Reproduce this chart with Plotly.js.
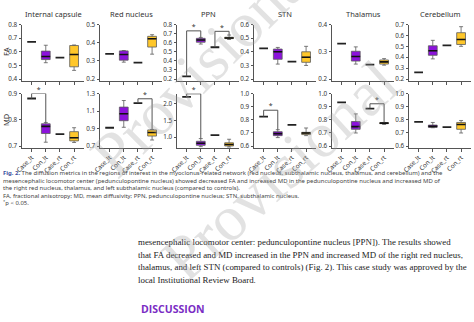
<!DOCTYPE html>
<html><head><meta charset="utf-8">
<script src="https://cdn.plot.ly/plotly-3.0.1.min.js"></script>
<style>html,body{margin:0;padding:0;background:#fff}#chart{width:474px;height:322px}</style>
</head><body><div id="chart"></div>
<script>
// ---------- data ----------
const categories = ['Case_lt', 'Con_lt', 'Case_rt', 'Con_rt'];
const regions = ['Internal capsule', 'Red nucleus', 'PPN', 'STN', 'Thalamus', 'Cerebellum'];
const metrics = ['FA', 'MD'];

// FA: single case values
const faCaseLt = [0.673, 0.339, 0.230, 0.425, 0.330, 0.262];
const faCaseRt = [0.558, 0.290, 0.550, 0.328, 0.253, 0.508];
// FA controls: [lower whisker, q1, median, q3, upper whisker]
const faConLt = [
  [0.520, 0.543, 0.565, 0.605, 0.648],
  [0.293, 0.304, 0.335, 0.355, 0.357],
  [0.585, 0.605, 0.630, 0.648, 0.658],
  [0.310, 0.345, 0.400, 0.420, 0.432],
  [0.255, 0.266, 0.283, 0.302, 0.318],
  [0.385, 0.418, 0.460, 0.505, 0.555]
];
const faConRt = [
  [0.464, 0.490, 0.580, 0.646, 0.650],
  [0.337, 0.376, 0.422, 0.435, 0.444],
  [0.635, 0.645, 0.652, 0.660, 0.684],
  [0.300, 0.323, 0.360, 0.400, 0.440],
  [0.251, 0.255, 0.263, 0.270, 0.275],
  [0.500, 0.517, 0.563, 0.625, 0.680]
];
// MD
const mdCaseLt = [0.881, 0.910, 2.200, 0.825, 0.932, 0.785];
const mdCaseRt = [0.746, 1.190, 1.060, 0.762, 0.885, 0.745];
const mdConLt = [
  [0.715, 0.748, 0.775, 0.785, 0.790],
  [0.915, 0.990, 1.070, 1.145, 1.220],
  [0.720, 0.760, 0.820, 0.880, 0.960],
  [0.665, 0.680, 0.695, 0.710, 0.725],
  [0.700, 0.728, 0.748, 0.787, 0.845],
  [0.740, 0.743, 0.750, 0.760, 0.780]
];
const mdConRt = [
  [0.714, 0.720, 0.732, 0.755, 0.770],
  [0.770, 0.815, 0.855, 0.885, 0.890],
  [0.710, 0.740, 0.785, 0.835, 0.940],
  [0.680, 0.688, 0.700, 0.705, 0.738],
  [0.765, 0.771, 0.775, 0.778, 0.780],
  [0.700, 0.728, 0.765, 0.780, 0.795]
];
// y tick values per panel
const faTicks = [
  [0.4, 0.5, 0.6, 0.7, 0.8], [0.2, 0.3, 0.4, 0.5], [0.2, 0.3, 0.4, 0.5, 0.6, 0.7, 0.8],
  [0.2, 0.3, 0.4, 0.5, 0.6], [0.2, 0.3, 0.4], [0.2, 0.3, 0.4, 0.5, 0.6, 0.7]
];
const mdTicks = [
  [0.7, 0.8, 0.9], [0.7, 0.9, 1.1, 1.3], [1.0, 1.5, 2.0],
  [0.6, 0.7, 0.8, 0.9, 1.0], [0.6, 0.7, 0.8, 0.9, 1.0], [0.6, 0.7, 0.8, 0.9, 1.0]
];
// significance brackets (* p < 0.05)
const sigMetric = ['FA', 'FA', 'MD', 'MD', 'MD', 'MD', 'MD'];
const sigRegion = [2, 2, 0, 1, 2, 3, 4];
const sigSide = ['lt', 'rt', 'lt', 'rt', 'lt', 'lt', 'rt'];
const sigHeight = [0.73, 0.725, 0.90, 1.24, 2.29, 0.873, 0.922];

const captionLines = [
  '<b><span style="color:#3a4f9e">Fig. 2.</span></b> The diffusion metrics in the regions of interest in the myoclonus-related network (red nucleus, subthalamic nucleus, thalamus, and cerebellum) and the',
  'mesencephalic locomotor center (pedunculopontine nucleus) showed decreased FA and increased MD in the pedunculopontine nucleus and increased MD of',
  'the right red nucleus, thalamus, and left subthalamic nucleus (compared to controls).',
  'FA, fractional anisotropy; MD, mean diffusivity; PPN, pedunculopontine nucleus; STN, subthalamic nucleus.',
  '<sup>*</sup>p < 0.05.'
];
const bodyLines = [
  'mesencephalic locomotor center: pedunculopontine nucleus [PPN]). The results showed',
  'that FA decreased and MD increased in the PPN and increased MD of the right red nucleus,',
  'thalamus, and left STN (compared to controls) (Fig. 2). This case study was approved by the',
  'local Institutional Review Board.'
];
const heading = 'DISCUSSION';
const watermark = 'Provisional';

// ---------- styling / layout helpers ----------
const W = 474, H = 322;
const PURPLE = '#8c12dc', GOLD = '#ffc72a';
const colStart = [22, 100, 177, 254, 332, 409];
const panelW = 62;
const rowPx = {FA: [24.5, 81], MD: [93.5, 148]};
const X = p => p / W, Y = p => 1 - p / H;
const FONT = 'Noto Sans, Open Sans, sans-serif';

const data = [];
const layout = {
  width: W, height: H, margin: {l: 0, r: 0, t: 0, b: 0},
  paper_bgcolor: '#fff', plot_bgcolor: 'rgba(0,0,0,0)',
  showlegend: false, boxmode: 'overlay',
  font: {family: FONT, color: '#333'},
  annotations: []
};

function boxTrace(ax, ay, xi, s, fill, lineColor, lineW, ww) {
  return {
    type: 'box', xaxis: ax, yaxis: ay, x: [xi],
    lowerfence: [s[0]], q1: [s[1]], median: [s[2]], q3: [s[3]], upperfence: [s[4]],
    width: 0.62, whiskerwidth: ww, fillcolor: fill,
    line: {color: lineColor, width: lineW}, hoverinfo: 'skip', boxpoints: false
  };
}

metrics.forEach((m, r) => {
  const caseLt = m === 'FA' ? faCaseLt : mdCaseLt;
  const caseRt = m === 'FA' ? faCaseRt : mdCaseRt;
  const conLt = m === 'FA' ? faConLt : mdConLt;
  const conRt = m === 'FA' ? faConRt : mdConRt;
  const ticks = m === 'FA' ? faTicks : mdTicks;
  regions.forEach((reg, c) => {
    const k = r * 6 + c + 1;
    const ax = 'x' + k, ay = 'y' + k;
    const tv = ticks[c];
    let lo = tv[0], hi = tv[tv.length - 1];
    let span = hi - lo;
    let yr = [lo - 0.035 * span, hi];
    if (m === 'MD' && c === 2) yr = [0.68, 2.3];
    layout['xaxis' + k] = {
      domain: [X(colStart[c]), X(colStart[c] + panelW)], anchor: ay,
      range: [-0.68, 3.7], tickvals: [0, 1, 2, 3], ticktext: categories,
      showticklabels: m === 'MD', tickangle: -45, tickfont: {size: 6.3, color: '#333'},
      showline: true, linecolor: '#555', linewidth: 1, ticks: 'outside', ticklen: 2.5,
      tickcolor: '#555', showgrid: false, zeroline: false, fixedrange: true
    };
    layout['yaxis' + k] = {
      domain: [Y(rowPx[m][1]), Y(rowPx[m][0])], anchor: ax, range: yr,
      tickvals: tv, ticktext: tv.map(v => v.toFixed(1)), tickfont: {size: 6.3, color: '#333'},
      showline: true, linecolor: '#555', linewidth: 1, ticks: 'outside', ticklen: 2.5,
      tickcolor: '#555', showgrid: false, zeroline: false, fixedrange: true
    };
    const cl = caseLt[c], cr = caseRt[c];
    data.push(boxTrace(ax, ay, 0, [cl, cl, cl, cl, cl], '#222', '#222', 1.8, 0));
    data.push(boxTrace(ax, ay, 1, conLt[c], PURPLE, '#5a5a5a', 0.8, 0.45));
    data.push(boxTrace(ax, ay, 1, Array(5).fill(conLt[c][2]), '#111', '#111', 1.6, 0));
    data.push(boxTrace(ax, ay, 2, [cr, cr, cr, cr, cr], '#222', '#222', 1.8, 0));
    data.push(boxTrace(ax, ay, 3, conRt[c], GOLD, '#5a5a5a', 0.8, 0.45));
    data.push(boxTrace(ax, ay, 3, Array(5).fill(conRt[c][2]), '#111', '#111', 1.6, 0));
    if (r === 0) {
      layout.annotations.push({
        xref: 'paper', yref: 'paper', x: X(colStart[c] + panelW / 2), y: Y(14.5),
        xanchor: 'center', yanchor: 'middle',
        text: reg, showarrow: false, font: {size: 7.5, color: '#333', family: FONT}
      });
    }
  });
});

// significance brackets
sigMetric.forEach((m, i) => {
  const r = metrics.indexOf(m), c = sigRegion[i];
  const k = r * 6 + c + 1;
  const lt = sigSide[i] === 'lt';
  const caseV = (m === 'FA' ? (lt ? faCaseLt : faCaseRt) : (lt ? mdCaseLt : mdCaseRt))[c];
  const con = (m === 'FA' ? (lt ? faConLt : faConRt) : (lt ? mdConLt : mdConRt))[c];
  const i0 = lt ? 0 : 2, i1 = i0 + 1, h = sigHeight[i];
  data.push({
    type: 'scatter', mode: 'lines', xaxis: 'x' + k, yaxis: 'y' + k,
    x: [i0, i0, i1, i1], y: [caseV, h, h, con[4]],
    line: {color: '#555', width: 1}, hoverinfo: 'skip', cliponaxis: false
  });
  data.push({
    type: 'scatter', mode: 'text', xaxis: 'x' + k, yaxis: 'y' + k,
    x: [(i0 + i1) / 2], y: [h], text: ['*'], textposition: 'top center',
    textfont: {size: 7, color: '#333'}, hoverinfo: 'skip', cliponaxis: false
  });
});

// y titles
[['FA', 52], ['MD', 120]].forEach(([t, py]) => layout.annotations.push({
  xref: 'paper', yref: 'paper', x: X(6), y: Y(py), xanchor: 'center', yanchor: 'middle',
  text: t, textangle: -90,
  showarrow: false, font: {size: 7.5, color: '#333', family: FONT}
}));

// caption
captionLines.forEach((t, i) => layout.annotations.push({
  xref: 'paper', yref: 'paper', x: X(1), y: Y(173 + i * 7.6), xanchor: 'left', yanchor: 'middle',
  text: t, showarrow: false, font: {size: 5.95, color: '#444', family: FONT}
}));
// body
bodyLines.forEach((t, i) => layout.annotations.push({
  xref: 'paper', yref: 'paper', x: X(136), y: Y(242 + i * 12.6), xanchor: 'left', yanchor: 'middle',
  text: t, showarrow: false, font: {size: 8.9, color: '#222', family: 'Liberation Serif, serif'}
}));
layout.annotations.push({
  xref: 'paper', yref: 'paper', x: X(139), y: Y(309), xanchor: 'left', yanchor: 'middle',
  text: '<b>' + heading + '</b>', showarrow: false,
  font: {size: 10.5, color: '#7a2cc4', family: 'Open Sans, sans-serif'}
});
// watermark
[[205, 62, -45], [280, 170, -42]].forEach(([px, py, ang]) => layout.annotations.push({
  xref: 'paper', yref: 'paper', x: X(px), y: Y(py), xanchor: 'center', yanchor: 'middle',
  text: watermark, textangle: ang,
  showarrow: false, font: {size: 64, color: 'rgba(160,160,160,0.3)', family: 'Liberation Serif, serif'}
}));

Plotly.newPlot('chart', data, layout, {staticPlot: true, displayModeBar: false});
</script></body></html>
